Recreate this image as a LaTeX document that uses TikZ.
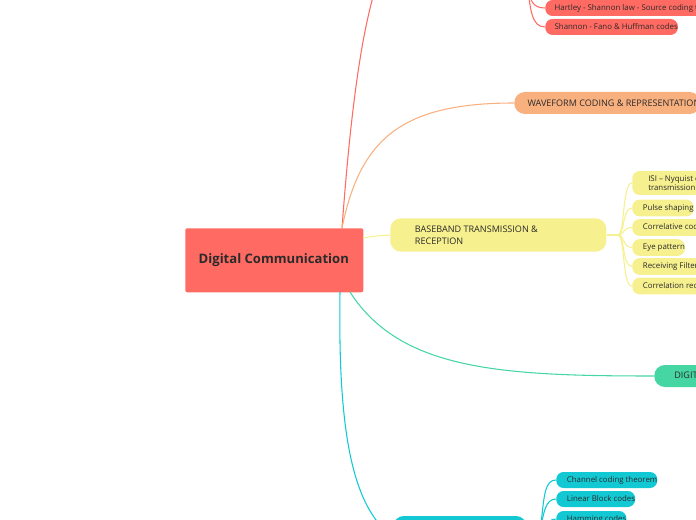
\documentclass[tikz,border=0pt]{standalone}
\usepackage{fontspec}
\setmainfont{Open Sans}
\definecolor{cred}{HTML}{FF6B63}
\definecolor{corg}{HTML}{F9B07F}
\definecolor{cyel}{HTML}{F6F08F}
\definecolor{cgrn}{HTML}{45D6A4}
\definecolor{ccyn}{HTML}{12C9D3}
\definecolor{ctxt}{HTML}{2A2A2A}
\begin{document}
\begin{tikzpicture}[x=0.75pt,y=-0.75pt,
  pill/.style={rounded corners=5.5pt,inner sep=0pt,anchor=west,font=\fontsize{5.9}{6.9}\selectfont,text=ctxt},
  bigpill/.style={rounded corners=8pt,inner sep=0pt,anchor=west,font=\fontsize{6.8}{8.7}\selectfont,text=ctxt},
  lnk/.style={line width=0.8pt}]
\useasboundingbox (0,0) rectangle (696,520);
\clip (0,0) rectangle (696,520);
% central
\node[fill=cred,rounded corners=1.5pt,minimum width=133.5pt,minimum height=48pt,anchor=north west,inner sep=0pt] (c) at (185,228) {};
\node[anchor=west,font=\fontsize{9.8}{11}\selectfont\bfseries,text=ctxt] (ct) at (194,260) {Digital Communication};
% red branch
\coordinate (rh) at (528,-14);
\draw[cred,lnk] (342,228) .. controls (350,120) and (360,40) .. (375,-10);
\node[pill,fill=cred,minimum height=12pt] (r1) at (545,8) {\hspace{7pt}Hartley - Shannon law - Source coding theorem\hspace{7pt}};
\node[pill,fill=cred,minimum height=12pt] (r2) at (545,27) {\hspace{7pt}Shannon - Fano \& Huffman codes\hspace{7pt}};
\draw[cred,lnk] (rh) .. controls (530,0) and (532,8) .. (r1.west);
\draw[cred,lnk] (rh) .. controls (530,10) and (532,27) .. (r2.west);
% orange
\node[bigpill,fill=corg,minimum height=16.5pt] (o) at (514,103) {\hspace{10pt}WAVEFORM CODING \& REPRESENTATION\hspace{10pt}};
\draw[corg,lnk] (342,228) .. controls (360,140) and (400,103) .. (o.west);
% yellow
\node[bigpill,fill=cyel,minimum height=25pt,minimum width=162pt] (y) at (390,235) {\hspace{15pt}\parbox{140pt}{BASEBAND TRANSMISSION \&\\RECEPTION}};
\draw[cyel,lnk] (363,238) .. controls (375,236) .. (y.west);
\coordinate (yh) at (618,235);
\draw[cyel,lnk] (y.east) -- (yh);
\node[pill,fill=cyel,minimum height=18pt] (y1) at (632,183) {\hspace{12pt}\parbox{130pt}{ISI – Nyquist criterion for distortionless\\transmission}};
\draw[cyel,lnk] (yh) .. controls (625,235) and (622,183) .. (y1.west);
\foreach \n/\yy/\t in {y2/208/{Pulse shaping},y3/227.5/{Correlative coding},y4/247.5/{Eye pattern},y5/266.5/{Receiving Filters},y6/286/{Correlation receiver}}{
  \node[pill,fill=cyel,minimum height=12.5pt] (\n) at (632,\yy) {\hspace{8pt}\t\hspace{8pt}};
  \draw[cyel,lnk] (yh) .. controls (625,235) and (622,\yy) .. (\n.west);
}
% green
\node[bigpill,fill=cgrn,minimum height=16.5pt] (g) at (654,376) {\hspace{15pt}DIGITAL MODULATION TECHNIQUES\hspace{10pt}};
\draw[cgrn,lnk] (350,292) .. controls (400,370) and (500,376) .. (g.west);
% cyan
\node[bigpill,fill=ccyn,minimum height=16.5pt,minimum width=100pt] (b) at (393,527) {\hspace{15pt}ERROR CONTROL CODING};
\draw[ccyn,lnk] (340,292) .. controls (338,420) and (350,490) .. (380,525);
\coordinate (bh) at (541,525);
\foreach \n/\yy/\t in {b1/480/{Channel coding theorem},b2/499/{Linear Block codes},b3/519/{Hamming codes}}{
  \node[pill,fill=ccyn,minimum height=12pt] (\n) at (556,\yy) {\hspace{8pt}\t\hspace{8pt}};
  \draw[ccyn,lnk] (bh) .. controls (544,\yy+15) and (545,\yy) .. (\n.west);
}
\end{tikzpicture}
\end{document}
